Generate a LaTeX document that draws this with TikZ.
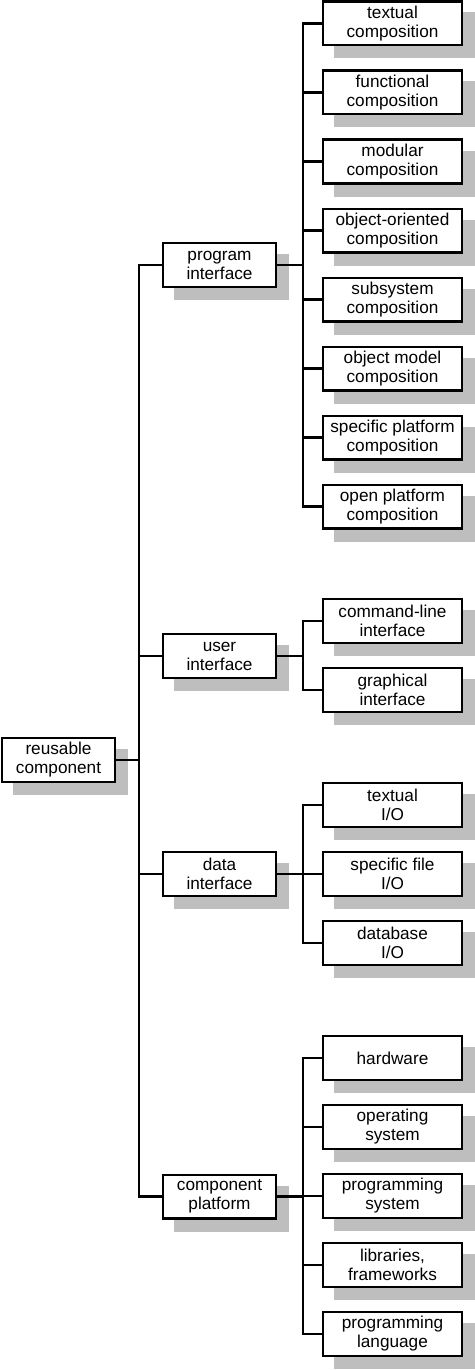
\documentclass[tikz,border=0pt]{standalone}
\usepackage{fontspec}
\setmainfont{Liberation Sans}
\usetikzlibrary{shadows}
\definecolor{ombre}{RGB}{190,190,190}
\tikzset{
  bloc/.style={draw=black, line width=2.3pt, fill=white, align=center,
    inner sep=0pt, minimum height=43.7pt,
    font=\fontsize{17.2}{19}\selectfont,
    drop shadow={shadow xshift=12pt, shadow yshift=-12pt, fill=ombre, draw=ombre, opacity=1}},
  racine/.style={bloc, minimum width=112.7pt},
  niveau/.style={bloc, minimum width=112.7pt},
  feuille/.style={bloc, minimum width=138.7pt},
  lien/.style={draw=black, line width=2.3pt}
}

\begin{document}
\begin{tikzpicture}[x=1pt, y=-1pt]

% Zone de dessin aux dimensions de la figure (en pixels, y vers le bas).
% Drawing area with the figure's dimensions (in pixels, y pointing down).
\useasboundingbox (0,0) rectangle (474,1370);

% Racine / Root
\node[racine] (root) at (58.5,760) {reusable\\component};

% Premier niveau / First level
\node[niveau] (prog) at (219.5,265) {program\\interface};
\node[niveau] (user) at (219.5,656) {user\\interface};
\node[niveau] (data) at (219.5,874) {data\\interface};
\node[niveau] (plat) at (219.5,1196.5) {component\\platform};

% Interface de programmation / Program interface
\node[feuille] (txtc) at (392.5,23.5) {textual\\composition};
\node[feuille] (func) at (392.5,92.5) {functional\\composition};
\node[feuille] (modc) at (392.5,161.5) {modular\\composition};
\node[feuille] (objc) at (392.5,230.5) {object-oriented\\composition};
\node[feuille] (subc) at (392.5,299.5) {subsystem\\composition};
\node[feuille] (omdc) at (392.5,368.5) {object model\\composition};
\node[feuille] (spfc) at (392.5,437.5) {specific platform\\composition};
\node[feuille] (opfc) at (392.5,506.5) {open platform\\composition};

% Interface utilisateur / User interface
\node[feuille] (cmdl) at (392.5,621) {command-line\\interface};
\node[feuille] (grph) at (392.5,690) {graphical\\interface};

% Interface de données / Data interface
\node[feuille] (txio) at (392.5,805) {textual\\I/O};
\node[feuille] (sfio) at (392.5,874) {specific file\\I/O};
\node[feuille] (dbio) at (392.5,943) {database\\I/O};

% Plateforme / Component platform
\node[feuille] (hard) at (392.5,1058) {hardware};
\node[feuille] (opsy) at (392.5,1127) {operating\\system};
\node[feuille] (prsy) at (392.5,1196) {programming\\system};
\node[feuille] (libf) at (392.5,1265) {libraries,\\frameworks};
\node[feuille] (lang) at (392.5,1334) {programming\\language};

% Liens / Connectors
\draw[lien] (root.east) -- ++(23,0) |- (prog.west);
\draw[lien] (root.east) -- ++(23,0) |- (user.west);
\draw[lien] (root.east) -- ++(23,0) |- (data.west);
\draw[lien] (root.east) -- ++(23,0) |- (plat.west);

\draw[lien] (prog.east) -- ++(26,0) |- (txtc.west);
\draw[lien] (prog.east) -- ++(26,0) |- (func.west);
\draw[lien] (prog.east) -- ++(26,0) |- (modc.west);
\draw[lien] (prog.east) -- ++(26,0) |- (objc.west);
\draw[lien] (prog.east) -- ++(26,0) |- (subc.west);
\draw[lien] (prog.east) -- ++(26,0) |- (omdc.west);
\draw[lien] (prog.east) -- ++(26,0) |- (spfc.west);
\draw[lien] (prog.east) -- ++(26,0) |- (opfc.west);

\draw[lien] (user.east) -- ++(26,0) |- (cmdl.west);
\draw[lien] (user.east) -- ++(26,0) |- (grph.west);

\draw[lien] (data.east) -- ++(26,0) |- (txio.west);
\draw[lien] (data.east) -- ++(26,0) |- (sfio.west);
\draw[lien] (data.east) -- ++(26,0) |- (dbio.west);

\draw[lien] (plat.east) -- ++(26,0) |- (hard.west);
\draw[lien] (plat.east) -- ++(26,0) |- (opsy.west);
\draw[lien] (plat.east) -- ++(26,0) |- (prsy.west);
\draw[lien] (plat.east) -- ++(26,0) |- (libf.west);
\draw[lien] (plat.east) -- ++(26,0) |- (lang.west);

\end{tikzpicture}
\end{document}
